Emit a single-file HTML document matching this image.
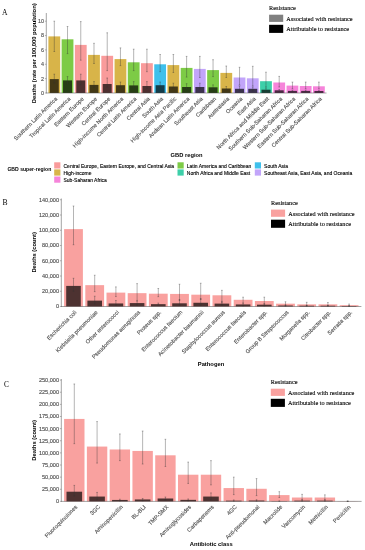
<!DOCTYPE html>
<html lang="en">
<head>
<meta charset="utf-8">
<title>Deaths associated with and attributable to resistance</title>
<style>
html,body{margin:0;padding:0;background:#fff;}
body{width:365px;height:550px;overflow:hidden;}
svg{display:block;}
text{white-space:pre;}
</style>
</head>
<body>
<svg width="365" height="550" viewBox="0 0 365 550">
<rect x="0" y="0" width="365" height="550" fill="#ffffff"/>
<rect x="48.40" y="36.40" width="11.80" height="56.60" fill="#D8B449" />
<rect x="49.80" y="79.10" width="9.00" height="13.90" fill="#000" fill-opacity="0.69"/>
<path d="M53.50 21.20H55.10M54.30 21.20V51.50M53.50 51.50H55.10" stroke="#333333" stroke-width="0.43" fill="none" opacity="0.85"/>
<path d="M53.50 74.20H55.10M54.30 74.20V83.20M53.50 83.20H55.10" stroke="#333333" stroke-width="0.43" fill="none" opacity="0.85"/>
<text x="57.70" y="99.20" font-family='"Liberation Sans", Arial, Helvetica, sans-serif' font-size="5.65" font-weight="normal" fill="#4d4d4d" text-anchor="end" transform="rotate(-45 57.70 99.20)" stroke="#4d4d4d" stroke-width="0.12">Southern Latin America</text>
<rect x="61.63" y="39.30" width="11.80" height="53.70" fill="#7DCB46" />
<rect x="63.03" y="80.40" width="9.00" height="12.60" fill="#000" fill-opacity="0.69"/>
<path d="M66.73 26.50H68.33M67.53 26.50V53.60M66.73 53.60H68.33" stroke="#333333" stroke-width="0.43" fill="none" opacity="0.85"/>
<path d="M66.73 76.60H68.33M67.53 76.60V84.00M66.73 84.00H68.33" stroke="#333333" stroke-width="0.43" fill="none" opacity="0.85"/>
<text x="70.93" y="99.20" font-family='"Liberation Sans", Arial, Helvetica, sans-serif' font-size="5.65" font-weight="normal" fill="#4d4d4d" text-anchor="end" transform="rotate(-45 70.93 99.20)" stroke="#4d4d4d" stroke-width="0.12">Tropical Latin America</text>
<rect x="74.86" y="44.90" width="11.80" height="48.10" fill="#F99B9B" />
<rect x="76.26" y="80.40" width="9.00" height="12.60" fill="#000" fill-opacity="0.69"/>
<path d="M79.96 21.60H81.56M80.76 21.60V60.20M79.96 60.20H81.56" stroke="#333333" stroke-width="0.43" fill="none" opacity="0.85"/>
<path d="M79.96 74.20H81.56M80.76 74.20V84.90M79.96 84.90H81.56" stroke="#333333" stroke-width="0.43" fill="none" opacity="0.85"/>
<text x="84.16" y="99.20" font-family='"Liberation Sans", Arial, Helvetica, sans-serif' font-size="5.65" font-weight="normal" fill="#4d4d4d" text-anchor="end" transform="rotate(-45 84.16 99.20)" stroke="#4d4d4d" stroke-width="0.12">Eastern Europe</text>
<rect x="88.09" y="54.90" width="11.80" height="38.10" fill="#D8B449" />
<rect x="89.49" y="84.90" width="9.00" height="8.10" fill="#000" fill-opacity="0.69"/>
<path d="M93.19 43.30H94.79M93.99 43.30V63.50M93.19 63.50H94.79" stroke="#333333" stroke-width="0.43" fill="none" opacity="0.85"/>
<path d="M93.19 81.60H94.79M93.99 81.60V87.30M93.19 87.30H94.79" stroke="#333333" stroke-width="0.43" fill="none" opacity="0.85"/>
<text x="97.39" y="99.20" font-family='"Liberation Sans", Arial, Helvetica, sans-serif' font-size="5.65" font-weight="normal" fill="#4d4d4d" text-anchor="end" transform="rotate(-45 97.39 99.20)" stroke="#4d4d4d" stroke-width="0.12">Western Europe</text>
<rect x="101.32" y="55.80" width="11.80" height="37.20" fill="#F99B9B" />
<rect x="102.72" y="84.00" width="9.00" height="9.00" fill="#000" fill-opacity="0.69"/>
<path d="M106.42 32.80H108.02M107.22 32.80V70.60M106.42 70.60H108.02" stroke="#333333" stroke-width="0.43" fill="none" opacity="0.85"/>
<path d="M106.42 78.00H108.02M107.22 78.00V87.30M106.42 87.30H108.02" stroke="#333333" stroke-width="0.43" fill="none" opacity="0.85"/>
<text x="110.62" y="99.20" font-family='"Liberation Sans", Arial, Helvetica, sans-serif' font-size="5.65" font-weight="normal" fill="#4d4d4d" text-anchor="end" transform="rotate(-45 110.62 99.20)" stroke="#4d4d4d" stroke-width="0.12">Central Europe</text>
<rect x="114.55" y="59.10" width="11.80" height="33.90" fill="#D8B449" />
<rect x="115.95" y="85.20" width="9.00" height="7.80" fill="#000" fill-opacity="0.69"/>
<path d="M119.65 47.90H121.25M120.45 47.90V65.60M119.65 65.60H121.25" stroke="#333333" stroke-width="0.43" fill="none" opacity="0.85"/>
<path d="M119.65 82.00H121.25M120.45 82.00V87.30M119.65 87.30H121.25" stroke="#333333" stroke-width="0.43" fill="none" opacity="0.85"/>
<text x="123.85" y="99.20" font-family='"Liberation Sans", Arial, Helvetica, sans-serif' font-size="5.65" font-weight="normal" fill="#4d4d4d" text-anchor="end" transform="rotate(-45 123.85 99.20)" stroke="#4d4d4d" stroke-width="0.12">High-income North America</text>
<rect x="127.78" y="62.30" width="11.80" height="30.70" fill="#7DCB46" />
<rect x="129.18" y="85.40" width="9.00" height="7.60" fill="#000" fill-opacity="0.69"/>
<path d="M132.88 49.20H134.48M133.68 49.20V70.60M132.88 70.60H134.48" stroke="#333333" stroke-width="0.43" fill="none" opacity="0.85"/>
<path d="M132.88 81.60H134.48M133.68 81.60V88.00M132.88 88.00H134.48" stroke="#333333" stroke-width="0.43" fill="none" opacity="0.85"/>
<text x="137.08" y="99.20" font-family='"Liberation Sans", Arial, Helvetica, sans-serif' font-size="5.65" font-weight="normal" fill="#4d4d4d" text-anchor="end" transform="rotate(-45 137.08 99.20)" stroke="#4d4d4d" stroke-width="0.12">Central Latin America</text>
<rect x="141.01" y="63.20" width="11.80" height="29.80" fill="#F99B9B" />
<rect x="142.41" y="86.00" width="9.00" height="7.00" fill="#000" fill-opacity="0.69"/>
<path d="M146.11 49.20H147.71M146.91 49.20V71.70M146.11 71.70H147.71" stroke="#333333" stroke-width="0.43" fill="none" opacity="0.85"/>
<path d="M146.11 81.60H147.71M146.91 81.60V88.20M146.11 88.20H147.71" stroke="#333333" stroke-width="0.43" fill="none" opacity="0.85"/>
<text x="150.31" y="99.20" font-family='"Liberation Sans", Arial, Helvetica, sans-serif' font-size="5.65" font-weight="normal" fill="#4d4d4d" text-anchor="end" transform="rotate(-45 150.31 99.20)" stroke="#4d4d4d" stroke-width="0.12">Central Asia</text>
<rect x="154.24" y="64.30" width="11.80" height="28.70" fill="#3FC0EC" />
<rect x="155.64" y="85.20" width="9.00" height="7.80" fill="#000" fill-opacity="0.69"/>
<path d="M159.34 54.50H160.94M160.14 54.50V71.70M159.34 71.70H160.94" stroke="#333333" stroke-width="0.43" fill="none" opacity="0.85"/>
<path d="M159.34 82.00H160.94M160.14 82.00V87.30M159.34 87.30H160.94" stroke="#333333" stroke-width="0.43" fill="none" opacity="0.85"/>
<text x="163.54" y="99.20" font-family='"Liberation Sans", Arial, Helvetica, sans-serif' font-size="5.65" font-weight="normal" fill="#4d4d4d" text-anchor="end" transform="rotate(-45 163.54 99.20)" stroke="#4d4d4d" stroke-width="0.12">South Asia</text>
<rect x="167.47" y="65.10" width="11.80" height="27.90" fill="#D8B449" />
<rect x="168.87" y="86.50" width="9.00" height="6.50" fill="#000" fill-opacity="0.69"/>
<path d="M172.57 54.50H174.17M173.37 54.50V72.50M172.57 72.50H174.17" stroke="#333333" stroke-width="0.43" fill="none" opacity="0.85"/>
<path d="M172.57 83.20H174.17M173.37 83.20V88.20M172.57 88.20H174.17" stroke="#333333" stroke-width="0.43" fill="none" opacity="0.85"/>
<text x="176.77" y="99.20" font-family='"Liberation Sans", Arial, Helvetica, sans-serif' font-size="5.65" font-weight="normal" fill="#4d4d4d" text-anchor="end" transform="rotate(-45 176.77 99.20)" stroke="#4d4d4d" stroke-width="0.12">High-income Asia Pacific</text>
<rect x="180.70" y="67.90" width="11.80" height="25.10" fill="#7DCB46" />
<rect x="182.10" y="87.00" width="9.00" height="6.00" fill="#000" fill-opacity="0.69"/>
<path d="M185.80 56.40H187.40M186.60 56.40V77.10M185.80 77.10H187.40" stroke="#333333" stroke-width="0.43" fill="none" opacity="0.85"/>
<path d="M185.80 83.70H187.40M186.60 83.70V89.00M185.80 89.00H187.40" stroke="#333333" stroke-width="0.43" fill="none" opacity="0.85"/>
<text x="190.00" y="99.20" font-family='"Liberation Sans", Arial, Helvetica, sans-serif' font-size="5.65" font-weight="normal" fill="#4d4d4d" text-anchor="end" transform="rotate(-45 190.00 99.20)" stroke="#4d4d4d" stroke-width="0.12">Andean Latin America</text>
<rect x="193.93" y="68.90" width="11.80" height="24.10" fill="#C2A5FA" />
<rect x="195.33" y="87.00" width="9.00" height="6.00" fill="#000" fill-opacity="0.69"/>
<path d="M199.03 56.40H200.63M199.83 56.40V77.50M199.03 77.50H200.63" stroke="#333333" stroke-width="0.43" fill="none" opacity="0.85"/>
<path d="M199.03 83.20H200.63M199.83 83.20V89.00M199.03 89.00H200.63" stroke="#333333" stroke-width="0.43" fill="none" opacity="0.85"/>
<text x="203.23" y="99.20" font-family='"Liberation Sans", Arial, Helvetica, sans-serif' font-size="5.65" font-weight="normal" fill="#4d4d4d" text-anchor="end" transform="rotate(-45 203.23 99.20)" stroke="#4d4d4d" stroke-width="0.12">Southeast Asia</text>
<rect x="207.16" y="70.10" width="11.80" height="22.90" fill="#7DCB46" />
<rect x="208.56" y="87.30" width="9.00" height="5.70" fill="#000" fill-opacity="0.69"/>
<path d="M212.26 59.70H213.86M213.06 59.70V76.60M212.26 76.60H213.86" stroke="#333333" stroke-width="0.43" fill="none" opacity="0.85"/>
<path d="M212.26 84.90H213.86M213.06 84.90V89.80M212.26 89.80H213.86" stroke="#333333" stroke-width="0.43" fill="none" opacity="0.85"/>
<text x="216.46" y="99.20" font-family='"Liberation Sans", Arial, Helvetica, sans-serif' font-size="5.65" font-weight="normal" fill="#4d4d4d" text-anchor="end" transform="rotate(-45 216.46 99.20)" stroke="#4d4d4d" stroke-width="0.12">Caribbean</text>
<rect x="220.39" y="72.90" width="11.80" height="20.10" fill="#D8B449" />
<rect x="221.79" y="88.50" width="9.00" height="4.50" fill="#000" fill-opacity="0.69"/>
<path d="M225.49 66.00H227.09M226.29 66.00V77.50M225.49 77.50H227.09" stroke="#333333" stroke-width="0.43" fill="none" opacity="0.85"/>
<path d="M225.49 86.50H227.09M226.29 86.50V89.80M225.49 89.80H227.09" stroke="#333333" stroke-width="0.43" fill="none" opacity="0.85"/>
<text x="229.69" y="99.20" font-family='"Liberation Sans", Arial, Helvetica, sans-serif' font-size="5.65" font-weight="normal" fill="#4d4d4d" text-anchor="end" transform="rotate(-45 229.69 99.20)" stroke="#4d4d4d" stroke-width="0.12">Australasia</text>
<rect x="233.62" y="77.50" width="11.80" height="15.50" fill="#C2A5FA" />
<rect x="235.02" y="88.80" width="9.00" height="4.20" fill="#000" fill-opacity="0.69"/>
<path d="M238.72 67.30H240.32M239.52 67.30V85.00M238.72 85.00H240.32" stroke="#333333" stroke-width="0.43" fill="none" opacity="0.85"/>
<path d="M238.72 86.00H240.32M239.52 86.00V91.00M238.72 91.00H240.32" stroke="#333333" stroke-width="0.43" fill="none" opacity="0.85"/>
<text x="242.92" y="99.20" font-family='"Liberation Sans", Arial, Helvetica, sans-serif' font-size="5.65" font-weight="normal" fill="#4d4d4d" text-anchor="end" transform="rotate(-45 242.92 99.20)" stroke="#4d4d4d" stroke-width="0.12">Oceania</text>
<rect x="246.85" y="78.30" width="11.80" height="14.70" fill="#C2A5FA" />
<rect x="248.25" y="88.80" width="9.00" height="4.20" fill="#000" fill-opacity="0.69"/>
<path d="M251.95 66.30H253.55M252.75 66.30V86.00M251.95 86.00H253.55" stroke="#333333" stroke-width="0.43" fill="none" opacity="0.85"/>
<path d="M251.95 87.00H253.55M252.75 87.00V91.00M251.95 91.00H253.55" stroke="#333333" stroke-width="0.43" fill="none" opacity="0.85"/>
<text x="256.15" y="99.20" font-family='"Liberation Sans", Arial, Helvetica, sans-serif' font-size="5.65" font-weight="normal" fill="#4d4d4d" text-anchor="end" transform="rotate(-45 256.15 99.20)" stroke="#4d4d4d" stroke-width="0.12">East Asia</text>
<rect x="260.08" y="81.20" width="11.80" height="11.80" fill="#3DCFA9" />
<rect x="261.48" y="89.70" width="9.00" height="3.30" fill="#000" fill-opacity="0.69"/>
<path d="M265.18 72.20H266.78M265.98 72.20V87.00M265.18 87.00H266.78" stroke="#333333" stroke-width="0.43" fill="none" opacity="0.85"/>
<path d="M265.18 88.00H266.78M265.98 88.00V91.50M265.18 91.50H266.78" stroke="#333333" stroke-width="0.43" fill="none" opacity="0.85"/>
<text x="269.38" y="99.20" font-family='"Liberation Sans", Arial, Helvetica, sans-serif' font-size="5.65" font-weight="normal" fill="#4d4d4d" text-anchor="end" transform="rotate(-45 269.38 99.20)" stroke="#4d4d4d" stroke-width="0.12">North Africa and Middle East</text>
<rect x="273.31" y="82.50" width="11.80" height="10.50" fill="#F684DA" />
<rect x="274.71" y="90.30" width="9.00" height="2.70" fill="#000" fill-opacity="0.69"/>
<path d="M278.41 76.40H280.01M279.21 76.40V87.00M278.41 87.00H280.01" stroke="#333333" stroke-width="0.43" fill="none" opacity="0.85"/>
<path d="M278.41 89.50H280.01M279.21 89.50V91.80M278.41 91.80H280.01" stroke="#333333" stroke-width="0.43" fill="none" opacity="0.85"/>
<text x="282.61" y="99.20" font-family='"Liberation Sans", Arial, Helvetica, sans-serif' font-size="5.65" font-weight="normal" fill="#4d4d4d" text-anchor="end" transform="rotate(-45 282.61 99.20)" stroke="#4d4d4d" stroke-width="0.12">Southern Sub-Saharan Africa</text>
<rect x="286.54" y="85.60" width="11.80" height="7.40" fill="#F684DA" />
<rect x="287.94" y="90.90" width="9.00" height="2.10" fill="#000" fill-opacity="0.69"/>
<path d="M291.64 82.10H293.24M292.44 82.10V88.80M291.64 88.80H293.24" stroke="#333333" stroke-width="0.43" fill="none" opacity="0.85"/>
<path d="M291.64 90.30H293.24M292.44 90.30V92.00M291.64 92.00H293.24" stroke="#333333" stroke-width="0.43" fill="none" opacity="0.85"/>
<text x="295.84" y="99.20" font-family='"Liberation Sans", Arial, Helvetica, sans-serif' font-size="5.65" font-weight="normal" fill="#4d4d4d" text-anchor="end" transform="rotate(-45 295.84 99.20)" stroke="#4d4d4d" stroke-width="0.12">Western Sub-Saharan Africa</text>
<rect x="299.77" y="86.00" width="11.80" height="7.00" fill="#F684DA" />
<rect x="301.17" y="90.90" width="9.00" height="2.10" fill="#000" fill-opacity="0.69"/>
<path d="M304.87 82.10H306.47M305.67 82.10V88.80M304.87 88.80H306.47" stroke="#333333" stroke-width="0.43" fill="none" opacity="0.85"/>
<path d="M304.87 90.30H306.47M305.67 90.30V92.00M304.87 92.00H306.47" stroke="#333333" stroke-width="0.43" fill="none" opacity="0.85"/>
<text x="309.07" y="99.20" font-family='"Liberation Sans", Arial, Helvetica, sans-serif' font-size="5.65" font-weight="normal" fill="#4d4d4d" text-anchor="end" transform="rotate(-45 309.07 99.20)" stroke="#4d4d4d" stroke-width="0.12">Eastern Sub-Saharan Africa</text>
<rect x="313.00" y="86.30" width="11.80" height="6.70" fill="#F684DA" />
<rect x="314.40" y="91.00" width="9.00" height="2.00" fill="#000" fill-opacity="0.69"/>
<path d="M318.10 82.10H319.70M318.90 82.10V88.80M318.10 88.80H319.70" stroke="#333333" stroke-width="0.43" fill="none" opacity="0.85"/>
<path d="M318.10 90.40H319.70M318.90 90.40V92.00M318.10 92.00H319.70" stroke="#333333" stroke-width="0.43" fill="none" opacity="0.85"/>
<text x="322.30" y="99.20" font-family='"Liberation Sans", Arial, Helvetica, sans-serif' font-size="5.65" font-weight="normal" fill="#4d4d4d" text-anchor="end" transform="rotate(-45 322.30 99.20)" stroke="#4d4d4d" stroke-width="0.12">Central Sub-Saharan Africa</text>
<line x1="46.30" y1="13.00" x2="46.30" y2="93.25" stroke="#484848" stroke-width="0.5" />
<line x1="46.05" y1="93.00" x2="326.50" y2="93.00" stroke="#484848" stroke-width="0.5" />
<line x1="44.90" y1="93.00" x2="46.30" y2="93.00" stroke="#484848" stroke-width="0.4" />
<text x="44.10" y="94.90" font-family='"Liberation Sans", Arial, Helvetica, sans-serif' font-size="5.4" font-weight="normal" fill="#4d4d4d" text-anchor="end" stroke="#4d4d4d" stroke-width="0.12">0</text>
<line x1="44.90" y1="78.64" x2="46.30" y2="78.64" stroke="#484848" stroke-width="0.4" />
<text x="44.10" y="80.54" font-family='"Liberation Sans", Arial, Helvetica, sans-serif' font-size="5.4" font-weight="normal" fill="#4d4d4d" text-anchor="end" stroke="#4d4d4d" stroke-width="0.12">2</text>
<line x1="44.90" y1="64.28" x2="46.30" y2="64.28" stroke="#484848" stroke-width="0.4" />
<text x="44.10" y="66.18" font-family='"Liberation Sans", Arial, Helvetica, sans-serif' font-size="5.4" font-weight="normal" fill="#4d4d4d" text-anchor="end" stroke="#4d4d4d" stroke-width="0.12">4</text>
<line x1="44.90" y1="49.92" x2="46.30" y2="49.92" stroke="#484848" stroke-width="0.4" />
<text x="44.10" y="51.82" font-family='"Liberation Sans", Arial, Helvetica, sans-serif' font-size="5.4" font-weight="normal" fill="#4d4d4d" text-anchor="end" stroke="#4d4d4d" stroke-width="0.12">6</text>
<line x1="44.90" y1="35.56" x2="46.30" y2="35.56" stroke="#484848" stroke-width="0.4" />
<text x="44.10" y="37.46" font-family='"Liberation Sans", Arial, Helvetica, sans-serif' font-size="5.4" font-weight="normal" fill="#4d4d4d" text-anchor="end" stroke="#4d4d4d" stroke-width="0.12">8</text>
<line x1="44.90" y1="21.20" x2="46.30" y2="21.20" stroke="#484848" stroke-width="0.4" />
<text x="44.10" y="23.10" font-family='"Liberation Sans", Arial, Helvetica, sans-serif' font-size="5.4" font-weight="normal" fill="#4d4d4d" text-anchor="end" stroke="#4d4d4d" stroke-width="0.12">10</text>
<text x="36.00" y="53.30" font-family='"Liberation Sans", Arial, Helvetica, sans-serif' font-size="5.8" font-weight="bold" fill="#000" text-anchor="middle" transform="rotate(-90 36.00 53.30)" >Deaths (rate per 100,000 population)</text>
<text x="186.60" y="157.10" font-family='"Liberation Sans", Arial, Helvetica, sans-serif' font-size="5.75" font-weight="bold" fill="#000" text-anchor="middle" >GBD region</text>
<text x="2.00" y="14.60" font-family='"Liberation Serif", "Times New Roman", serif' font-size="7.6" font-weight="normal" fill="#000" text-anchor="start" >A</text>
<text x="269.10" y="9.60" font-family='"Liberation Serif", "Times New Roman", serif' font-size="6.25" font-weight="normal" fill="#000" text-anchor="start" stroke="#000" stroke-width="0.1">Resistance</text>
<rect x="269.10" y="14.70" width="14.10" height="7.20" fill="#808080" />
<rect x="269.10" y="24.80" width="14.10" height="8.10" fill="#000" />
<text x="286.30" y="21.20" font-family='"Liberation Serif", "Times New Roman", serif' font-size="6.25" font-weight="normal" fill="#000" text-anchor="start" stroke="#000" stroke-width="0.1">Associated with resistance</text>
<text x="286.30" y="30.80" font-family='"Liberation Serif", "Times New Roman", serif' font-size="6.25" font-weight="normal" fill="#000" text-anchor="start" stroke="#000" stroke-width="0.1">Attributable to resistance</text>
<text x="7.40" y="171.00" font-family='"Liberation Sans", Arial, Helvetica, sans-serif' font-size="5.1" font-weight="bold" fill="#000" text-anchor="start" >GBD super-region</text>
<rect x="54.20" y="162.30" width="6.20" height="6.20" fill="#F99B9B" />
<text x="63.50" y="167.60" font-family='"Liberation Sans", Arial, Helvetica, sans-serif' font-size="5.0" font-weight="normal" fill="#000" text-anchor="start" stroke="#000" stroke-width="0.12">Central Europe, Eastern Europe, and Central Asia</text>
<rect x="54.20" y="169.40" width="6.20" height="6.20" fill="#D8B449" />
<text x="63.50" y="174.70" font-family='"Liberation Sans", Arial, Helvetica, sans-serif' font-size="5.0" font-weight="normal" fill="#000" text-anchor="start" stroke="#000" stroke-width="0.12">High-income</text>
<rect x="54.20" y="176.50" width="6.20" height="6.20" fill="#F684DA" />
<text x="63.50" y="181.80" font-family='"Liberation Sans", Arial, Helvetica, sans-serif' font-size="5.0" font-weight="normal" fill="#000" text-anchor="start" stroke="#000" stroke-width="0.12">Sub-Saharan Africa</text>
<rect x="177.50" y="162.30" width="6.20" height="6.20" fill="#7DCB46" />
<text x="186.80" y="167.60" font-family='"Liberation Sans", Arial, Helvetica, sans-serif' font-size="5.0" font-weight="normal" fill="#000" text-anchor="start" stroke="#000" stroke-width="0.12">Latin America and Caribbean</text>
<rect x="177.50" y="169.40" width="6.20" height="6.20" fill="#3DCFA9" />
<text x="186.80" y="174.70" font-family='"Liberation Sans", Arial, Helvetica, sans-serif' font-size="5.0" font-weight="normal" fill="#000" text-anchor="start" stroke="#000" stroke-width="0.12">North Africa and Middle East</text>
<rect x="254.80" y="162.30" width="6.20" height="6.20" fill="#3FC0EC" />
<text x="264.10" y="167.60" font-family='"Liberation Sans", Arial, Helvetica, sans-serif' font-size="5.0" font-weight="normal" fill="#000" text-anchor="start" stroke="#000" stroke-width="0.12">South Asia</text>
<rect x="254.80" y="169.40" width="6.20" height="6.20" fill="#C2A5FA" />
<text x="264.10" y="174.70" font-family='"Liberation Sans", Arial, Helvetica, sans-serif' font-size="5.0" font-weight="normal" fill="#000" text-anchor="start" stroke="#000" stroke-width="0.12">Southeast Asia, East Asia, and Oceania</text>
<rect x="64.10" y="229.11" width="18.80" height="77.39" fill="#F9A19F" />
<rect x="66.20" y="285.91" width="14.60" height="20.59" fill="#000" fill-opacity="0.69"/>
<path d="M72.70 206.00H74.30M73.50 206.00V244.74M72.70 244.74H74.30" stroke="#333333" stroke-width="0.43" fill="none" opacity="0.85"/>
<path d="M72.70 278.29H74.30M73.50 278.29V291.25M72.70 291.25H74.30" stroke="#333333" stroke-width="0.43" fill="none" opacity="0.85"/>
<text x="76.90" y="312.70" font-family='"Liberation Sans", Arial, Helvetica, sans-serif' font-size="5.65" font-weight="normal" fill="#4d4d4d" text-anchor="end" transform="rotate(-45 76.90 312.70)" stroke="#4d4d4d" stroke-width="0.12">Escherichia coli</text>
<rect x="85.30" y="285.15" width="18.80" height="21.35" fill="#F9A19F" />
<rect x="87.40" y="300.63" width="14.60" height="5.87" fill="#000" fill-opacity="0.69"/>
<path d="M93.90 275.24H95.50M94.70 275.24V291.63M93.90 291.63H95.50" stroke="#333333" stroke-width="0.43" fill="none" opacity="0.85"/>
<path d="M93.90 296.21H95.50M94.70 296.21V303.98M93.90 303.98H95.50" stroke="#333333" stroke-width="0.43" fill="none" opacity="0.85"/>
<text x="98.10" y="312.70" font-family='"Liberation Sans", Arial, Helvetica, sans-serif' font-size="5.65" font-weight="normal" fill="#4d4d4d" text-anchor="end" transform="rotate(-45 98.10 312.70)" stroke="#4d4d4d" stroke-width="0.12">Klebsiella pneumoniae</text>
<rect x="106.50" y="292.62" width="18.80" height="13.88" fill="#F9A19F" />
<rect x="108.60" y="303.45" width="14.60" height="3.05" fill="#000" fill-opacity="0.69"/>
<path d="M115.10 286.90H116.70M115.90 286.90V296.59M115.10 296.59H116.70" stroke="#333333" stroke-width="0.43" fill="none" opacity="0.85"/>
<path d="M115.10 300.48H116.70M115.90 300.48V305.36M115.10 305.36H116.70" stroke="#333333" stroke-width="0.43" fill="none" opacity="0.85"/>
<text x="119.30" y="312.70" font-family='"Liberation Sans", Arial, Helvetica, sans-serif' font-size="5.65" font-weight="normal" fill="#4d4d4d" text-anchor="end" transform="rotate(-45 119.30 312.70)" stroke="#4d4d4d" stroke-width="0.12">Other enterococci</text>
<rect x="127.70" y="293.16" width="18.80" height="13.34" fill="#F9A19F" />
<rect x="129.80" y="303.07" width="14.60" height="3.43" fill="#000" fill-opacity="0.69"/>
<path d="M136.30 283.62H137.90M137.10 283.62V300.48M136.30 300.48H137.90" stroke="#333333" stroke-width="0.43" fill="none" opacity="0.85"/>
<path d="M136.30 301.24H137.90M137.10 301.24V305.36M136.30 305.36H137.90" stroke="#333333" stroke-width="0.43" fill="none" opacity="0.85"/>
<text x="140.50" y="312.70" font-family='"Liberation Sans", Arial, Helvetica, sans-serif' font-size="5.65" font-weight="normal" fill="#4d4d4d" text-anchor="end" transform="rotate(-45 140.50 312.70)" stroke="#4d4d4d" stroke-width="0.12">Pseudomonas aeruginosa</text>
<rect x="148.90" y="293.69" width="18.80" height="12.81" fill="#F9A19F" />
<rect x="151.00" y="304.14" width="14.60" height="2.36" fill="#000" fill-opacity="0.69"/>
<path d="M157.50 288.50H159.10M158.30 288.50V296.66M157.50 296.66H159.10" stroke="#333333" stroke-width="0.43" fill="none" opacity="0.85"/>
<path d="M157.50 303.07H159.10M158.30 303.07V304.98M157.50 304.98H159.10" stroke="#333333" stroke-width="0.43" fill="none" opacity="0.85"/>
<text x="161.70" y="312.70" font-family='"Liberation Sans", Arial, Helvetica, sans-serif' font-size="5.65" font-weight="normal" fill="#4d4d4d" text-anchor="end" transform="rotate(-45 161.70 312.70)" stroke="#4d4d4d" stroke-width="0.12">Proteus spp.</text>
<rect x="170.10" y="293.92" width="18.80" height="12.58" fill="#F9A19F" />
<rect x="172.20" y="303.30" width="14.60" height="3.20" fill="#000" fill-opacity="0.69"/>
<path d="M178.70 284.24H180.30M179.50 284.24V300.48M178.70 300.48H180.30" stroke="#333333" stroke-width="0.43" fill="none" opacity="0.85"/>
<path d="M178.70 299.49H180.30M179.50 299.49V305.36M178.70 305.36H180.30" stroke="#333333" stroke-width="0.43" fill="none" opacity="0.85"/>
<text x="182.90" y="312.70" font-family='"Liberation Sans", Arial, Helvetica, sans-serif' font-size="5.65" font-weight="normal" fill="#4d4d4d" text-anchor="end" transform="rotate(-45 182.90 312.70)" stroke="#4d4d4d" stroke-width="0.12">Enterococcus faecium</text>
<rect x="191.30" y="294.68" width="18.80" height="11.82" fill="#F9A19F" />
<rect x="193.40" y="302.76" width="14.60" height="3.74" fill="#000" fill-opacity="0.69"/>
<path d="M199.90 283.24H201.50M200.70 283.24V299.49M199.90 299.49H201.50" stroke="#333333" stroke-width="0.43" fill="none" opacity="0.85"/>
<path d="M199.90 298.57H201.50M200.70 298.57V305.36M199.90 305.36H201.50" stroke="#333333" stroke-width="0.43" fill="none" opacity="0.85"/>
<text x="204.10" y="312.70" font-family='"Liberation Sans", Arial, Helvetica, sans-serif' font-size="5.65" font-weight="normal" fill="#4d4d4d" text-anchor="end" transform="rotate(-45 204.10 312.70)" stroke="#4d4d4d" stroke-width="0.12">Acinetobacter baumannii</text>
<rect x="212.50" y="295.29" width="18.80" height="11.21" fill="#F9A19F" />
<rect x="214.60" y="303.60" width="14.60" height="2.90" fill="#000" fill-opacity="0.69"/>
<path d="M221.10 290.33H222.70M221.90 290.33V302.76M221.10 302.76H222.70" stroke="#333333" stroke-width="0.43" fill="none" opacity="0.85"/>
<path d="M221.10 301.31H222.70M221.90 301.31V305.36M221.10 305.36H222.70" stroke="#333333" stroke-width="0.43" fill="none" opacity="0.85"/>
<text x="225.30" y="312.70" font-family='"Liberation Sans", Arial, Helvetica, sans-serif' font-size="5.65" font-weight="normal" fill="#4d4d4d" text-anchor="end" transform="rotate(-45 225.30 312.70)" stroke="#4d4d4d" stroke-width="0.12">Staphylococcus aureus</text>
<rect x="233.70" y="299.79" width="18.80" height="6.71" fill="#F9A19F" />
<rect x="235.80" y="304.44" width="14.60" height="2.06" fill="#000" fill-opacity="0.69"/>
<path d="M242.30 297.20H243.90M243.10 297.20V302.92M242.30 302.92H243.90" stroke="#333333" stroke-width="0.43" fill="none" opacity="0.85"/>
<path d="M242.30 303.60H243.90M243.10 303.60V305.89M242.30 305.89H243.90" stroke="#333333" stroke-width="0.43" fill="none" opacity="0.85"/>
<text x="246.50" y="312.70" font-family='"Liberation Sans", Arial, Helvetica, sans-serif' font-size="5.65" font-weight="normal" fill="#4d4d4d" text-anchor="end" transform="rotate(-45 246.50 312.70)" stroke="#4d4d4d" stroke-width="0.12">Enterococcus faecalis</text>
<rect x="254.90" y="301.01" width="18.80" height="5.49" fill="#F9A19F" />
<rect x="257.00" y="304.67" width="14.60" height="1.83" fill="#000" fill-opacity="0.69"/>
<path d="M263.50 297.20H265.10M264.30 297.20V303.98M263.50 303.98H265.10" stroke="#333333" stroke-width="0.43" fill="none" opacity="0.85"/>
<path d="M263.50 303.91H265.10M264.30 303.91V305.97M263.50 305.97H265.10" stroke="#333333" stroke-width="0.43" fill="none" opacity="0.85"/>
<text x="267.70" y="312.70" font-family='"Liberation Sans", Arial, Helvetica, sans-serif' font-size="5.65" font-weight="normal" fill="#4d4d4d" text-anchor="end" transform="rotate(-45 267.70 312.70)" stroke="#4d4d4d" stroke-width="0.12">Enterobacter spp.</text>
<rect x="276.10" y="303.68" width="18.80" height="2.82" fill="#F9A19F" />
<rect x="278.20" y="305.51" width="14.60" height="0.99" fill="#000" fill-opacity="0.69"/>
<path d="M284.70 301.77H286.30M285.50 301.77V305.28M284.70 305.28H286.30" stroke="#333333" stroke-width="0.43" fill="none" opacity="0.85"/>
<path d="M284.70 305.05H286.30M285.50 305.05V306.27M284.70 306.27H286.30" stroke="#333333" stroke-width="0.43" fill="none" opacity="0.85"/>
<text x="288.90" y="312.70" font-family='"Liberation Sans", Arial, Helvetica, sans-serif' font-size="5.65" font-weight="normal" fill="#4d4d4d" text-anchor="end" transform="rotate(-45 288.90 312.70)" stroke="#4d4d4d" stroke-width="0.12">Group B Streptococcus</text>
<rect x="297.30" y="304.37" width="18.80" height="2.13" fill="#F9A19F" />
<rect x="299.40" y="305.74" width="14.60" height="0.76" fill="#000" fill-opacity="0.69"/>
<path d="M305.90 302.31H307.50M306.70 302.31V305.51M305.90 305.51H307.50" stroke="#333333" stroke-width="0.43" fill="none" opacity="0.85"/>
<path d="M305.90 305.36H307.50M306.70 305.36V306.35M305.90 306.35H307.50" stroke="#333333" stroke-width="0.43" fill="none" opacity="0.85"/>
<text x="310.10" y="312.70" font-family='"Liberation Sans", Arial, Helvetica, sans-serif' font-size="5.65" font-weight="normal" fill="#4d4d4d" text-anchor="end" transform="rotate(-45 310.10 312.70)" stroke="#4d4d4d" stroke-width="0.12">Morganella spp.</text>
<rect x="318.50" y="304.37" width="18.80" height="2.13" fill="#F9A19F" />
<rect x="320.60" y="305.74" width="14.60" height="0.76" fill="#000" fill-opacity="0.69"/>
<path d="M327.10 302.54H328.70M327.90 302.54V305.51M327.10 305.51H328.70" stroke="#333333" stroke-width="0.43" fill="none" opacity="0.85"/>
<path d="M327.10 305.36H328.70M327.90 305.36V306.35M327.10 306.35H328.70" stroke="#333333" stroke-width="0.43" fill="none" opacity="0.85"/>
<text x="331.30" y="312.70" font-family='"Liberation Sans", Arial, Helvetica, sans-serif' font-size="5.65" font-weight="normal" fill="#4d4d4d" text-anchor="end" transform="rotate(-45 331.30 312.70)" stroke="#4d4d4d" stroke-width="0.12">Citrobacter spp.</text>
<rect x="339.70" y="305.20" width="18.80" height="1.30" fill="#F9A19F" />
<rect x="341.80" y="305.97" width="14.60" height="0.53" fill="#000" fill-opacity="0.69"/>
<path d="M348.30 304.06H349.90M349.10 304.06V305.97M348.30 305.97H349.90" stroke="#333333" stroke-width="0.43" fill="none" opacity="0.85"/>
<path d="M348.30 305.74H349.90M349.10 305.74V306.42M348.30 306.42H349.90" stroke="#333333" stroke-width="0.43" fill="none" opacity="0.85"/>
<text x="352.50" y="312.70" font-family='"Liberation Sans", Arial, Helvetica, sans-serif' font-size="5.65" font-weight="normal" fill="#4d4d4d" text-anchor="end" transform="rotate(-45 352.50 312.70)" stroke="#4d4d4d" stroke-width="0.12">Serratia spp.</text>
<line x1="61.30" y1="198.50" x2="61.30" y2="306.75" stroke="#484848" stroke-width="0.5" />
<line x1="61.05" y1="306.50" x2="361.40" y2="306.50" stroke="#484848" stroke-width="0.5" />
<line x1="59.90" y1="306.50" x2="61.30" y2="306.50" stroke="#484848" stroke-width="0.4" />
<text x="59.00" y="308.45" font-family='"Liberation Sans", Arial, Helvetica, sans-serif' font-size="5.55" font-weight="normal" fill="#4d4d4d" text-anchor="end" stroke="#4d4d4d" stroke-width="0.12">0</text>
<line x1="59.90" y1="291.25" x2="61.30" y2="291.25" stroke="#484848" stroke-width="0.4" />
<text x="59.00" y="293.20" font-family='"Liberation Sans", Arial, Helvetica, sans-serif' font-size="5.55" font-weight="normal" fill="#4d4d4d" text-anchor="end" stroke="#4d4d4d" stroke-width="0.12">20,000</text>
<line x1="59.90" y1="276.00" x2="61.30" y2="276.00" stroke="#484848" stroke-width="0.4" />
<text x="59.00" y="277.95" font-family='"Liberation Sans", Arial, Helvetica, sans-serif' font-size="5.55" font-weight="normal" fill="#4d4d4d" text-anchor="end" stroke="#4d4d4d" stroke-width="0.12">40,000</text>
<line x1="59.90" y1="260.75" x2="61.30" y2="260.75" stroke="#484848" stroke-width="0.4" />
<text x="59.00" y="262.70" font-family='"Liberation Sans", Arial, Helvetica, sans-serif' font-size="5.55" font-weight="normal" fill="#4d4d4d" text-anchor="end" stroke="#4d4d4d" stroke-width="0.12">60,000</text>
<line x1="59.90" y1="245.50" x2="61.30" y2="245.50" stroke="#484848" stroke-width="0.4" />
<text x="59.00" y="247.45" font-family='"Liberation Sans", Arial, Helvetica, sans-serif' font-size="5.55" font-weight="normal" fill="#4d4d4d" text-anchor="end" stroke="#4d4d4d" stroke-width="0.12">80,000</text>
<line x1="59.90" y1="230.25" x2="61.30" y2="230.25" stroke="#484848" stroke-width="0.4" />
<text x="59.00" y="232.20" font-family='"Liberation Sans", Arial, Helvetica, sans-serif' font-size="5.55" font-weight="normal" fill="#4d4d4d" text-anchor="end" stroke="#4d4d4d" stroke-width="0.12">100,000</text>
<line x1="59.90" y1="215.00" x2="61.30" y2="215.00" stroke="#484848" stroke-width="0.4" />
<text x="59.00" y="216.95" font-family='"Liberation Sans", Arial, Helvetica, sans-serif' font-size="5.55" font-weight="normal" fill="#4d4d4d" text-anchor="end" stroke="#4d4d4d" stroke-width="0.12">120,000</text>
<line x1="59.90" y1="199.75" x2="61.30" y2="199.75" stroke="#484848" stroke-width="0.4" />
<text x="59.00" y="201.70" font-family='"Liberation Sans", Arial, Helvetica, sans-serif' font-size="5.55" font-weight="normal" fill="#4d4d4d" text-anchor="end" stroke="#4d4d4d" stroke-width="0.12">140,000</text>
<text x="35.60" y="252.30" font-family='"Liberation Sans", Arial, Helvetica, sans-serif' font-size="5.8" font-weight="bold" fill="#000" text-anchor="middle" transform="rotate(-90 35.60 252.30)" >Deaths (count)</text>
<text x="211.00" y="366.00" font-family='"Liberation Sans", Arial, Helvetica, sans-serif' font-size="5.8" font-weight="bold" fill="#000" text-anchor="middle" >Pathogen</text>
<text x="2.40" y="204.50" font-family='"Liberation Serif", "Times New Roman", serif' font-size="7.6" font-weight="normal" fill="#000" text-anchor="start" >B</text>
<text x="271.00" y="204.50" font-family='"Liberation Serif", "Times New Roman", serif' font-size="6.25" font-weight="normal" fill="#000" text-anchor="start" stroke="#000" stroke-width="0.1">Resistance</text>
<rect x="271.00" y="209.60" width="14.10" height="7.20" fill="#F9A19F" />
<rect x="271.00" y="219.70" width="14.10" height="8.10" fill="#000" />
<text x="288.20" y="216.10" font-family='"Liberation Serif", "Times New Roman", serif' font-size="6.25" font-weight="normal" fill="#000" text-anchor="start" stroke="#000" stroke-width="0.1">Associated with resistance</text>
<text x="288.20" y="225.70" font-family='"Liberation Serif", "Times New Roman", serif' font-size="6.25" font-weight="normal" fill="#000" text-anchor="start" stroke="#000" stroke-width="0.1">Attributable to resistance</text>
<rect x="64.10" y="418.92" width="20.40" height="82.48" fill="#F9A19F" />
<rect x="66.50" y="491.70" width="15.60" height="9.70" fill="#000" fill-opacity="0.69"/>
<path d="M73.50 383.98H75.10M74.30 383.98V443.66M73.50 443.66H75.10" stroke="#333333" stroke-width="0.43" fill="none" opacity="0.85"/>
<path d="M73.50 485.39H75.10M74.30 485.39V496.06M73.50 496.06H75.10" stroke="#333333" stroke-width="0.43" fill="none" opacity="0.85"/>
<text x="77.70" y="507.40" font-family='"Liberation Sans", Arial, Helvetica, sans-serif' font-size="5.65" font-weight="normal" fill="#4d4d4d" text-anchor="end" transform="rotate(-45 77.70 507.40)" stroke="#4d4d4d" stroke-width="0.12">Fluoroquinolones</text>
<rect x="86.88" y="446.57" width="20.40" height="54.83" fill="#F9A19F" />
<rect x="89.28" y="496.55" width="15.60" height="4.85" fill="#000" fill-opacity="0.69"/>
<path d="M96.28 421.58H97.88M97.08 421.58V463.07M96.28 463.07H97.88" stroke="#333333" stroke-width="0.43" fill="none" opacity="0.85"/>
<path d="M96.28 492.42H97.88M97.08 492.42V499.70M96.28 499.70H97.88" stroke="#333333" stroke-width="0.43" fill="none" opacity="0.85"/>
<text x="100.48" y="507.40" font-family='"Liberation Sans", Arial, Helvetica, sans-serif' font-size="5.65" font-weight="normal" fill="#4d4d4d" text-anchor="end" transform="rotate(-45 100.48 507.40)" stroke="#4d4d4d" stroke-width="0.12">3GC</text>
<rect x="109.66" y="449.48" width="20.40" height="51.92" fill="#F9A19F" />
<rect x="112.06" y="499.94" width="15.60" height="1.46" fill="#000" fill-opacity="0.69"/>
<path d="M119.06 433.96H120.66M119.86 433.96V460.64M119.06 460.64H120.66" stroke="#333333" stroke-width="0.43" fill="none" opacity="0.85"/>
<path d="M119.06 499.22H120.66M119.86 499.22V501.01M119.06 501.01H120.66" stroke="#333333" stroke-width="0.43" fill="none" opacity="0.85"/>
<text x="123.26" y="507.40" font-family='"Liberation Sans", Arial, Helvetica, sans-serif' font-size="5.65" font-weight="normal" fill="#4d4d4d" text-anchor="end" transform="rotate(-45 123.26 507.40)" stroke="#4d4d4d" stroke-width="0.12">Aminopenicillin</text>
<rect x="132.44" y="450.94" width="20.40" height="50.46" fill="#F9A19F" />
<rect x="134.84" y="499.46" width="15.60" height="1.94" fill="#000" fill-opacity="0.69"/>
<path d="M141.84 431.05H143.44M142.64 431.05V464.04M141.84 464.04H143.44" stroke="#333333" stroke-width="0.43" fill="none" opacity="0.85"/>
<path d="M141.84 498.49H143.44M142.64 498.49V500.82M141.84 500.82H143.44" stroke="#333333" stroke-width="0.43" fill="none" opacity="0.85"/>
<text x="146.04" y="507.40" font-family='"Liberation Sans", Arial, Helvetica, sans-serif' font-size="5.65" font-weight="normal" fill="#4d4d4d" text-anchor="end" transform="rotate(-45 146.04 507.40)" stroke="#4d4d4d" stroke-width="0.12">BL-BLI</text>
<rect x="155.22" y="455.31" width="20.40" height="46.09" fill="#F9A19F" />
<rect x="157.62" y="498.49" width="15.60" height="2.91" fill="#000" fill-opacity="0.69"/>
<path d="M164.62 439.29H166.22M165.42 439.29V466.47M164.62 466.47H166.22" stroke="#333333" stroke-width="0.43" fill="none" opacity="0.85"/>
<path d="M164.62 497.03H166.22M165.42 497.03V500.19M164.62 500.19H166.22" stroke="#333333" stroke-width="0.43" fill="none" opacity="0.85"/>
<text x="168.82" y="507.40" font-family='"Liberation Sans", Arial, Helvetica, sans-serif' font-size="5.65" font-weight="normal" fill="#4d4d4d" text-anchor="end" transform="rotate(-45 168.82 507.40)" stroke="#4d4d4d" stroke-width="0.12">TMP-SMX</text>
<rect x="178.00" y="474.71" width="20.40" height="26.69" fill="#F9A19F" />
<rect x="180.40" y="499.85" width="15.60" height="1.55" fill="#000" fill-opacity="0.69"/>
<path d="M187.40 462.10H189.00M188.20 462.10V483.45M187.40 483.45H189.00" stroke="#333333" stroke-width="0.43" fill="none" opacity="0.85"/>
<path d="M187.40 498.97H189.00M188.20 498.97V500.91M187.40 500.91H189.00" stroke="#333333" stroke-width="0.43" fill="none" opacity="0.85"/>
<text x="191.60" y="507.40" font-family='"Liberation Sans", Arial, Helvetica, sans-serif' font-size="5.65" font-weight="normal" fill="#4d4d4d" text-anchor="end" transform="rotate(-45 191.60 507.40)" stroke="#4d4d4d" stroke-width="0.12">Aminoglycosides</text>
<rect x="200.78" y="474.71" width="20.40" height="26.69" fill="#F9A19F" />
<rect x="203.18" y="496.55" width="15.60" height="4.85" fill="#000" fill-opacity="0.69"/>
<path d="M210.18 460.64H211.78M210.98 460.64V484.90M210.18 484.90H211.78" stroke="#333333" stroke-width="0.43" fill="none" opacity="0.85"/>
<path d="M210.18 492.91H211.78M210.98 492.91V499.94M210.18 499.94H211.78" stroke="#333333" stroke-width="0.43" fill="none" opacity="0.85"/>
<text x="214.38" y="507.40" font-family='"Liberation Sans", Arial, Helvetica, sans-serif' font-size="5.65" font-weight="normal" fill="#4d4d4d" text-anchor="end" transform="rotate(-45 214.38 507.40)" stroke="#4d4d4d" stroke-width="0.12">Carbapenems</text>
<rect x="223.56" y="488.06" width="20.40" height="13.34" fill="#F9A19F" />
<rect x="225.96" y="500.67" width="15.60" height="0.73" fill="#000" fill-opacity="0.69"/>
<path d="M232.96 477.14H234.56M233.76 477.14V494.61M232.96 494.61H234.56" stroke="#333333" stroke-width="0.43" fill="none" opacity="0.85"/>
<path d="M232.96 499.94H234.56M233.76 499.94V501.16M232.96 501.16H234.56" stroke="#333333" stroke-width="0.43" fill="none" opacity="0.85"/>
<text x="237.16" y="507.40" font-family='"Liberation Sans", Arial, Helvetica, sans-serif' font-size="5.65" font-weight="normal" fill="#4d4d4d" text-anchor="end" transform="rotate(-45 237.16 507.40)" stroke="#4d4d4d" stroke-width="0.12">4GC</text>
<rect x="246.34" y="488.78" width="20.40" height="12.62" fill="#F9A19F" />
<rect x="248.74" y="500.53" width="15.60" height="0.87" fill="#000" fill-opacity="0.69"/>
<path d="M255.74 478.60H257.34M256.54 478.60V495.58M255.74 495.58H257.34" stroke="#333333" stroke-width="0.43" fill="none" opacity="0.85"/>
<path d="M255.74 499.70H257.34M256.54 499.70V501.11M255.74 501.11H257.34" stroke="#333333" stroke-width="0.43" fill="none" opacity="0.85"/>
<text x="259.94" y="507.40" font-family='"Liberation Sans", Arial, Helvetica, sans-serif' font-size="5.65" font-weight="normal" fill="#4d4d4d" text-anchor="end" transform="rotate(-45 259.94 507.40)" stroke="#4d4d4d" stroke-width="0.12">Anti-pseudomonal</text>
<rect x="269.12" y="495.09" width="20.40" height="6.31" fill="#F9A19F" />
<rect x="271.52" y="501.16" width="15.60" height="0.24" fill="#000" fill-opacity="0.69"/>
<path d="M278.52 491.70H280.12M279.32 491.70V497.52M278.52 497.52H280.12" stroke="#333333" stroke-width="0.43" fill="none" opacity="0.85"/>
<path d="M278.52 500.91H280.12M279.32 500.91V501.30M278.52 501.30H280.12" stroke="#333333" stroke-width="0.43" fill="none" opacity="0.85"/>
<text x="282.72" y="507.40" font-family='"Liberation Sans", Arial, Helvetica, sans-serif' font-size="5.65" font-weight="normal" fill="#4d4d4d" text-anchor="end" transform="rotate(-45 282.72 507.40)" stroke="#4d4d4d" stroke-width="0.12">Macrolide</text>
<rect x="291.90" y="497.52" width="20.40" height="3.88" fill="#F9A19F" />
<rect x="294.30" y="500.67" width="15.60" height="0.73" fill="#000" fill-opacity="0.69"/>
<path d="M301.30 494.36H302.90M302.10 494.36V499.70M301.30 499.70H302.90" stroke="#333333" stroke-width="0.43" fill="none" opacity="0.85"/>
<path d="M301.30 500.04H302.90M302.10 500.04V501.16M301.30 501.16H302.90" stroke="#333333" stroke-width="0.43" fill="none" opacity="0.85"/>
<text x="305.50" y="507.40" font-family='"Liberation Sans", Arial, Helvetica, sans-serif' font-size="5.65" font-weight="normal" fill="#4d4d4d" text-anchor="end" transform="rotate(-45 305.50 507.40)" stroke="#4d4d4d" stroke-width="0.12">Vancomycin</text>
<rect x="314.68" y="497.52" width="20.40" height="3.88" fill="#F9A19F" />
<rect x="317.08" y="500.67" width="15.60" height="0.73" fill="#000" fill-opacity="0.69"/>
<path d="M324.08 494.85H325.68M324.88 494.85V499.70M324.08 499.70H325.68" stroke="#333333" stroke-width="0.43" fill="none" opacity="0.85"/>
<path d="M324.08 500.04H325.68M324.88 500.04V501.16M324.08 501.16H325.68" stroke="#333333" stroke-width="0.43" fill="none" opacity="0.85"/>
<text x="328.28" y="507.40" font-family='"Liberation Sans", Arial, Helvetica, sans-serif' font-size="5.65" font-weight="normal" fill="#4d4d4d" text-anchor="end" transform="rotate(-45 328.28 507.40)" stroke="#4d4d4d" stroke-width="0.12">Methicillin</text>
<rect x="337.46" y="501.25" width="20.40" height="0.15" fill="#F9A19F" />
<rect x="339.86" y="501.35" width="15.60" height="0.05" fill="#000" fill-opacity="0.69"/>
<path d="M346.86 501.06H348.46M347.66 501.06V501.35M346.86 501.35H348.46" stroke="#333333" stroke-width="0.43" fill="none" opacity="0.85"/>
<path d="M346.86 501.25H348.46M347.66 501.25V501.40M346.86 501.40H348.46" stroke="#333333" stroke-width="0.43" fill="none" opacity="0.85"/>
<text x="351.06" y="507.40" font-family='"Liberation Sans", Arial, Helvetica, sans-serif' font-size="5.65" font-weight="normal" fill="#4d4d4d" text-anchor="end" transform="rotate(-45 351.06 507.40)" stroke="#4d4d4d" stroke-width="0.12">Penicillin</text>
<line x1="61.30" y1="379.00" x2="61.30" y2="501.65" stroke="#484848" stroke-width="0.5" />
<line x1="61.05" y1="501.40" x2="361.60" y2="501.40" stroke="#484848" stroke-width="0.5" />
<line x1="59.90" y1="501.40" x2="61.30" y2="501.40" stroke="#484848" stroke-width="0.4" />
<text x="59.00" y="503.35" font-family='"Liberation Sans", Arial, Helvetica, sans-serif' font-size="5.55" font-weight="normal" fill="#4d4d4d" text-anchor="end" stroke="#4d4d4d" stroke-width="0.12">0</text>
<line x1="59.90" y1="489.27" x2="61.30" y2="489.27" stroke="#484848" stroke-width="0.4" />
<text x="59.00" y="491.22" font-family='"Liberation Sans", Arial, Helvetica, sans-serif' font-size="5.55" font-weight="normal" fill="#4d4d4d" text-anchor="end" stroke="#4d4d4d" stroke-width="0.12">25,000</text>
<line x1="59.90" y1="477.14" x2="61.30" y2="477.14" stroke="#484848" stroke-width="0.4" />
<text x="59.00" y="479.09" font-family='"Liberation Sans", Arial, Helvetica, sans-serif' font-size="5.55" font-weight="normal" fill="#4d4d4d" text-anchor="end" stroke="#4d4d4d" stroke-width="0.12">50,000</text>
<line x1="59.90" y1="465.01" x2="61.30" y2="465.01" stroke="#484848" stroke-width="0.4" />
<text x="59.00" y="466.96" font-family='"Liberation Sans", Arial, Helvetica, sans-serif' font-size="5.55" font-weight="normal" fill="#4d4d4d" text-anchor="end" stroke="#4d4d4d" stroke-width="0.12">75,000</text>
<line x1="59.90" y1="452.88" x2="61.30" y2="452.88" stroke="#484848" stroke-width="0.4" />
<text x="59.00" y="454.83" font-family='"Liberation Sans", Arial, Helvetica, sans-serif' font-size="5.55" font-weight="normal" fill="#4d4d4d" text-anchor="end" stroke="#4d4d4d" stroke-width="0.12">100,000</text>
<line x1="59.90" y1="440.75" x2="61.30" y2="440.75" stroke="#484848" stroke-width="0.4" />
<text x="59.00" y="442.70" font-family='"Liberation Sans", Arial, Helvetica, sans-serif' font-size="5.55" font-weight="normal" fill="#4d4d4d" text-anchor="end" stroke="#4d4d4d" stroke-width="0.12">125,000</text>
<line x1="59.90" y1="428.62" x2="61.30" y2="428.62" stroke="#484848" stroke-width="0.4" />
<text x="59.00" y="430.57" font-family='"Liberation Sans", Arial, Helvetica, sans-serif' font-size="5.55" font-weight="normal" fill="#4d4d4d" text-anchor="end" stroke="#4d4d4d" stroke-width="0.12">150,000</text>
<line x1="59.90" y1="416.49" x2="61.30" y2="416.49" stroke="#484848" stroke-width="0.4" />
<text x="59.00" y="418.44" font-family='"Liberation Sans", Arial, Helvetica, sans-serif' font-size="5.55" font-weight="normal" fill="#4d4d4d" text-anchor="end" stroke="#4d4d4d" stroke-width="0.12">175,000</text>
<line x1="59.90" y1="404.36" x2="61.30" y2="404.36" stroke="#484848" stroke-width="0.4" />
<text x="59.00" y="406.31" font-family='"Liberation Sans", Arial, Helvetica, sans-serif' font-size="5.55" font-weight="normal" fill="#4d4d4d" text-anchor="end" stroke="#4d4d4d" stroke-width="0.12">200,000</text>
<line x1="59.90" y1="392.23" x2="61.30" y2="392.23" stroke="#484848" stroke-width="0.4" />
<text x="59.00" y="394.18" font-family='"Liberation Sans", Arial, Helvetica, sans-serif' font-size="5.55" font-weight="normal" fill="#4d4d4d" text-anchor="end" stroke="#4d4d4d" stroke-width="0.12">225,000</text>
<line x1="59.90" y1="380.10" x2="61.30" y2="380.10" stroke="#484848" stroke-width="0.4" />
<text x="59.00" y="382.05" font-family='"Liberation Sans", Arial, Helvetica, sans-serif' font-size="5.55" font-weight="normal" fill="#4d4d4d" text-anchor="end" stroke="#4d4d4d" stroke-width="0.12">250,000</text>
<text x="35.60" y="440.40" font-family='"Liberation Sans", Arial, Helvetica, sans-serif' font-size="5.8" font-weight="bold" fill="#000" text-anchor="middle" transform="rotate(-90 35.60 440.40)" >Deaths (count)</text>
<text x="211.20" y="546.00" font-family='"Liberation Sans", Arial, Helvetica, sans-serif' font-size="5.8" font-weight="bold" fill="#000" text-anchor="middle" >Antibiotic class</text>
<text x="3.90" y="387.00" font-family='"Liberation Serif", "Times New Roman", serif' font-size="7.3" font-weight="normal" fill="#000" text-anchor="start" >C</text>
<text x="270.80" y="383.60" font-family='"Liberation Serif", "Times New Roman", serif' font-size="6.25" font-weight="normal" fill="#000" text-anchor="start" stroke="#000" stroke-width="0.1">Resistance</text>
<rect x="270.80" y="388.70" width="14.10" height="7.20" fill="#F9A19F" />
<rect x="270.80" y="398.80" width="14.10" height="8.10" fill="#000" />
<text x="288.00" y="395.20" font-family='"Liberation Serif", "Times New Roman", serif' font-size="6.25" font-weight="normal" fill="#000" text-anchor="start" stroke="#000" stroke-width="0.1">Associated with resistance</text>
<text x="288.00" y="404.80" font-family='"Liberation Serif", "Times New Roman", serif' font-size="6.25" font-weight="normal" fill="#000" text-anchor="start" stroke="#000" stroke-width="0.1">Attributable to resistance</text>
</svg>
</body>
</html>
